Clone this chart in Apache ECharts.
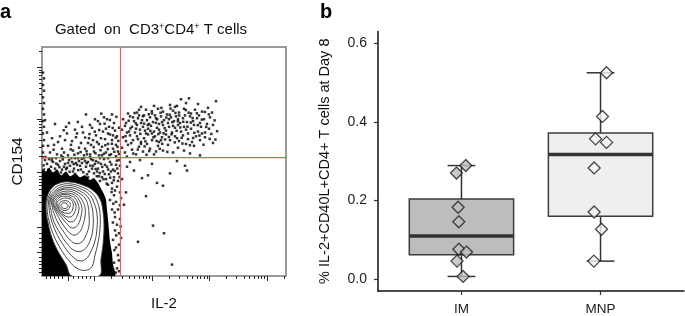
<!DOCTYPE html>
<html>
<head>
<meta charset="utf-8">
<script src="https://cdn.jsdelivr.net/npm/echarts@6/dist/echarts.min.js"></script>
<style>
html, body { margin: 0; padding: 0; background: #fff; }
#chart { width: 685px; height: 316px; }
</style>
</head>
<body>
<div id="chart"></div>
<script>
// ---- panel a : flow plot (axis units are raw channel units, no labels in figure)
var xMajorTicks = [26, 52, 110, 167, 225];
var xMinorTicks = [4, 8, 12, 16, 20, 31, 36, 40, 44, 48, 69, 80, 87, 92, 97, 101, 104, 107,
    127, 137, 145, 150, 155, 158, 162, 165, 184, 194, 202, 207, 212, 216, 219, 222, 242];
var yMajorTicks = [25, 51, 109, 165, 220];
var yMinorTicks = [4, 8, 12, 16, 20, 30, 35, 40, 45, 68, 78, 85, 91, 95, 99, 102, 105,
    126, 136, 143, 149, 153, 157, 160, 163, 182, 191, 198, 203, 207, 211, 214, 217, 237];
// quadrant gate (IL-2 / CD154)
var gateX = 78.5;
var gateY = 124.5;

// dense (saturated) event region, lower left
var blobOutline = [[0, 0], [0, 112], [4, 110], [7, 114], [11, 109], [15, 112], [19, 106], [24, 110],
    [28, 105], [33, 108], [38, 104], [43, 106], [48, 101], [52, 103], [56, 98], [59, 92], [62, 86],
    [64, 80], [65, 70], [66, 60], [67, 48], [68, 36], [70, 24], [71, 12], [73, 0]];

// contour levels, outermost first
var contourLevels = [
    [[5, 83], [10, 93], [18, 98], [28, 99], [40, 96], [51, 90], [58, 81], [61, 68], [62, 51], [61, 33], [59, 18], [57, 0], [30, 0], [24, 12], [16, 26], [10, 40], [6, 56], [4, 70]],
    [[6, 82], [11, 91], [19, 96], [28, 97], [39, 94], [49, 88], [55, 79], [58, 66], [58, 50], [56, 35], [53, 22], [50, 10], [44, 6], [35, 8], [27, 16], [19, 28], [12, 42], [7, 58], [5, 72]],
    [[7, 81], [12, 89], [20, 94], [29, 95], [38, 92], [47, 86], [52, 77], [55, 65], [55, 50], [53, 37], [49, 26], [44, 18], [37, 16], [29, 22], [21, 33], [14, 46], [9, 60], [7, 72]],
    [[8, 80], [13, 88], [20, 92], [29, 93], [37, 90], [45, 84], [49, 76], [51, 65], [51, 51], [49, 40], [45, 31], [39, 26], [32, 27], [25, 34], [18, 45], [12, 57], [9, 69]],
    [[9, 80], [14, 87], [21, 91], [29, 91], [36, 88], [43, 82], [46, 74], [47, 64], [47, 53], [44, 43], [40, 36], [34, 34], [28, 38], [22, 46], [16, 56], [12, 66], [10, 74]],
    [[10, 79], [15, 86], [22, 89], [29, 89], [35, 86], [40, 80], [43, 72], [43, 63], [41, 54], [38, 47], [33, 43], [28, 45], [23, 51], [18, 59], [14, 67], [11, 74]],
    [[11, 79], [16, 85], [22, 87], [28, 87], [34, 84], [38, 78], [40, 71], [39, 63], [37, 56], [33, 51], [29, 51], [25, 55], [20, 61], [15, 68], [12, 74]],
    [[12, 78], [17, 84], [23, 86], [28, 85], [33, 82], [36, 76], [37, 70], [35, 63], [32, 58], [28, 57], [24, 60], [19, 65], [15, 70], [13, 74]],
    [[14, 78], [18, 83], [23, 84], [28, 83], [32, 79], [34, 74], [33, 68], [30, 63], [26, 62], [22, 64], [18, 68], [15, 73]],
    [[15, 77], [19, 81], [24, 82], [28, 81], [31, 77], [31, 72], [29, 67], [25, 66], [21, 67], [17, 71]],
    [[17, 76], [21, 79], [25, 79], [28, 77], [28, 73], [26, 70], [22, 69], [18, 72]],
    [[19, 75], [22, 77], [25, 76], [26, 73], [23, 71], [20, 72]]
];

// individual events outside the contoured region
var cellDots = [
    // upper right cloud (CD154+ IL-2+)
    [139, 186], [147, 187], [174, 184], [144, 182], [128, 180], [156, 181], [133, 178],
    [95, 172], [104, 175], [110, 171], [116, 176], [121, 173], [125, 170], [131, 174], [137, 172], [142, 176],
    [149, 171], [153, 175], [160, 173], [166, 177], [170, 172], [99, 178], [112, 179], [86, 171], [135, 179],
    [81, 165], [84, 161], [88, 168], [92, 163], [96, 166], [99, 161], [102, 169], [105, 164], [108, 167],
    [111, 162], [114, 166], [117, 160], [119, 168], [122, 164], [126, 161], [129, 167], [132, 163], [134, 168],
    [138, 161], [141, 166], [145, 162], [148, 168], [151, 163], [155, 166], [158, 161], [162, 165], [165, 160],
    [168, 167], [100, 164], [107, 160], [113, 169], [120, 162], [127, 165], [136, 165], [143, 169], [157, 169],
    [91, 167], [97, 169],
    [80, 154], [83, 158], [87, 152], [90, 157], [93, 151], [95, 159], [98, 154], [101, 157], [104, 150],
    [106, 155], [109, 158], [112, 152], [115, 156], [118, 151], [121, 159], [124, 153], [127, 157], [130, 151],
    [133, 156], [136, 159], [139, 152], [142, 157], [146, 150], [149, 155], [152, 159], [156, 152], [159, 157],
    [163, 151], [167, 155], [171, 159], [94, 155], [103, 153], [117, 154], [131, 158], [144, 154], [160, 150],
    [110, 150], [85, 151],
    [81, 146], [84, 142], [88, 148], [91, 143], [95, 147], [99, 141], [102, 145], [106, 149], [110, 143],
    [113, 147], [117, 141], [120, 146], [124, 149], [128, 143], [133, 147], [137, 142], [141, 148], [146, 144],
    [150, 141], [154, 147], [158, 143], [163, 146], [171, 140], [96, 144], [119, 143], [135, 145],
    [80, 135], [83, 130], [86, 138], [90, 133], [94, 128], [97, 136], [101, 131], [105, 139], [108, 134],
    [112, 128], [116, 137], [121, 132], [126, 138], [131, 130], [136, 135], [142, 132], [148, 129], [152, 137],
    [158, 127], [144, 139], [114, 131], [99, 139],
    [83.5, 147.2], [86.7, 163.4], [89.2, 139.8], [92.6, 171.5], [95.8, 133.1], [98.3, 149.6], [100.9, 168.2],
    [103.4, 141.7], [105.7, 158.9], [107.2, 131.5], [109.8, 173.4], [111.4, 145.9], [113.9, 161.2], [116.3, 149.3],
    [118.6, 171.8], [120.2, 139.1], [122.7, 155.6], [124.4, 166.7], [126.9, 146.3], [128.5, 176.2], [130.3, 161.9],
    [132.8, 140.6], [134.6, 152.8], [137.1, 168.9], [139.7, 145.4], [141.2, 162.3], [143.8, 174.7], [145.5, 157.1],
    [147.9, 137.6], [150.6, 166.2], [152.3, 150.7], [154.9, 171.3], [157.4, 147.8], [159.8, 164.6], [161.5, 138.2],
    [164.2, 156.9], [166.8, 170.1], [169.3, 149.5], [172.6, 163.8], [175.1, 152.4], [88.4, 155.3], [93.7, 160.8],
    [97.1, 174.9], [102.6, 136.4], [106.8, 170.2], [114.6, 142.1], [119.4, 176.9], [123.1, 143.7], [129.6, 149.2],
    [133.4, 171.6], [138.2, 156.3], [146.7, 171.9], [151.1, 145.2], [155.8, 158.7], [162.9, 172.6], [167.7, 144.3],
    [102.1, 160.4], [108.4, 152.7], [115.2, 164.9], [121.6, 150.1], [127.8, 169.7], [135.9, 162.8], [140.4, 139.4],
    [148.8, 161.5], [117.7, 133.8], [125.3, 130.6], [91.2, 128.9], [104.5, 127.6], [84.9, 125.7], [173.4, 143.6],
    // upper left (CD154+ IL-2-)
    [8, 130], [12, 138], [15, 128], [20, 134], [23, 143], [26, 127], [29, 138], [31, 132], [34, 146], [36, 129],
    [39, 140], [41, 151], [43, 134], [45, 128], [47, 145], [49, 138], [50, 156], [52, 131], [54, 148], [55, 141],
    [57, 127], [58, 160], [60, 136], [61, 152], [63, 144], [64, 130], [65, 165], [66, 139], [67, 157], [68, 149],
    [69, 128], [70, 143], [71, 134], [72, 161], [73, 153], [74, 138], [75, 147], [76, 131], [77, 156], [62, 167],
    [56, 163], [48, 159], [40, 157], [33, 154], [25, 150], [18, 147], [10, 145], [5, 151], [13, 160], [27, 161],
    [44, 170], [70, 170], [53, 165], [66, 150], [59, 145], [46, 140], [37, 135], [30, 142], [22, 130], [16, 141],
    [6, 137], [74, 126], [71, 148], [64, 155], [51, 143], [42, 127], [35, 150], [60, 127], [24, 157], [3, 164],
    [44.6, 131.3], [48.2, 127.9], [51.7, 135.6], [53.4, 129.2], [56.8, 138.8], [58.5, 132.4], [61.9, 128.6],
    [63.3, 137.7], [65.8, 133.5], [67.4, 127.3], [69.9, 139.1], [72.2, 130.8], [73.8, 145.6], [75.5, 135.9],
    [77.1, 128.4], [76.3, 142.2], [70.7, 155.8], [62.6, 160.3], [57.2, 153.6], [52.8, 151.9], [47.5, 149.4],
    [43.1, 145.7], [38.6, 130.5], [32.4, 127.6], [28.7, 133.2], [19.3, 126.8], [11.6, 132.9], [67.9, 164.2],
    [74.4, 167.5], [59.3, 170.8], [35.8, 162.1], [21.7, 153.4],
    // just below the CD154 gate
    [2, 112], [5, 118], [7, 123], [9, 115], [11, 120], [13, 113], [14, 124], [16, 117], [18, 121], [20, 112],
    [21, 125], [23, 118], [25, 114], [27, 122], [28, 116], [30, 120], [32, 113], [33, 124], [35, 117], [37, 121],
    [39, 112], [40, 119], [42, 124], [44, 115], [46, 120], [47, 110], [49, 123], [51, 116], [52, 108], [54, 121],
    [56, 113], [57, 105], [59, 118], [61, 110], [62, 123], [64, 102], [65, 115], [67, 107], [68, 120], [70, 98],
    [71, 112], [72, 104], [74, 117], [75, 94], [76, 108], [77, 122], [73, 90], [69, 110], [66, 96], [63, 117],
    [60, 104], [58, 100], [55, 110], [53, 118], [50, 113], [45, 107], [43, 121], [38, 116], [34, 119], [31, 110],
    [26, 119], [22, 115], [19, 109], [15, 110], [12, 106], [8, 109], [4, 106], [3, 122], [10, 124], [36, 124],
    [48, 125], [58, 124], [66, 124], [76, 100], [78, 116], [78, 88],
    [1.6, 116.4], [6.3, 111.8], [9.7, 121.6], [14.2, 118.3], [17.4, 114.6], [20.8, 122.7], [24.1, 112.5],
    [29.3, 124.1], [31.7, 117.8], [36.2, 111.4], [39.8, 123.3], [41.3, 109.2], [44.7, 118.7], [48.3, 116.2],
    [50.9, 121.9], [53.6, 112.6], [56.4, 119.4], [60.2, 114.8], [62.8, 107.3], [66.1, 112.1], [69.4, 117.3],
    [72.7, 110.6], [74.9, 121.4], [77.6, 104.2], [75.3, 113.1], [71.8, 100.7], [68.2, 103.5], [64.7, 97.2],
    [61.5, 101.9], [57.7, 108.4], [3.4, 125.2], [27.6, 109.6], [46.1, 103.8], [54.8, 104.9], [33.1, 107.2],
    // lower right, sparse
    [85, 115], [92, 111], [100, 103], [106, 106], [115, 98], [121, 95], [128, 108], [143, 116], [145, 111],
    [84, 88], [111, 53], [122, 45], [96, 36], [130, 12], [88, 120], [135, 121], [98, 122], [110, 118],
    [80, 102], [82, 75], [104, 84],
    // edge of the dense region
    [70, 92], [72, 85], [74, 78], [76, 70], [73, 62], [75, 54], [77, 45], [71, 38], [74, 30], [76, 22],
    [72, 14], [75, 8], [78, 60], [77, 33], [70, 70], [68, 80], [73, 48], [77, 5], [79, 82], [79, 40],
    [69.6, 88.4], [71.3, 76.1], [72.6, 66.8], [70.9, 56.3], [74.2, 42.7], [72.4, 27.3], [76.8, 16.4],
    [73.7, 3.6], [78.6, 52.2], [77.9, 74.6],
    // events piled on the left axis
    [1, 130], [1, 137], [2, 143], [1, 150], [2, 157], [1, 163], [2, 170], [1, 176], [2, 182], [1, 188],
    [2, 195], [1, 201], [2, 208], [1, 214], [1, 125]
];

// ---- panel b : box plot
var groups = ['IM', 'MNP'];
// [min, q1, median, q3, max]
var imStats = [0.007, 0.062, 0.110, 0.204, 0.289];
var mnpStats = [0.046, 0.160, 0.317, 0.372, 0.525];
var imValues = [0.289, 0.270, 0.183, 0.146, 0.076, 0.069, 0.046, 0.007];
var imJitter = [0.031, -0.036, -0.024, -0.019, -0.019, 0.036, -0.032, 0.012];
var mnpValues = [0.525, 0.414, 0.357, 0.348, 0.283, 0.171, 0.127, 0.046];
var mnpJitter = [0.043, 0.014, -0.036, 0.043, -0.046, -0.046, 0.007, -0.048];
var yTicks = [0, 0.2, 0.4, 0.6];

var boxFill = ['#bdbdbd', '#efefef'];
var FONT = '"Liberation Sans", Arial, sans-serif';
var GATE_COLOR = '#f25a5a';

var myChart = echarts.init(document.getElementById('chart'), null, {renderer: 'canvas'});

function tickAxis(grid, pos, values, len, extra) {
    var a = {
        gridIndex: grid, type: 'value', position: pos,
        axisLine: {show: false, onZero: false},
        splitLine: {show: false},
        axisLabel: {show: false},
        axisTick: {show: true, customValues: values, length: len, lineStyle: {color: '#222', width: 1}}
    };
    return Object.assign(a, extra);
}

function gateLine(points) {
    return {
        type: 'line', xAxisIndex: 0, yAxisIndex: 0, silent: true, z: 4,
        symbol: 'none', data: points,
        lineStyle: {color: GATE_COLOR, width: 1.2},
        itemStyle: {color: GATE_COLOR}
    };
}

var option = {
    backgroundColor: '#fff',
    animation: false,
    textStyle: {fontFamily: FONT},
    grid: [
        {left: 42, top: 47, width: 244, height: 241, show: true, borderColor: '#7a7a7a', borderWidth: 1.5, backgroundColor: '#fff'},
        {left: 378, top: 31.5, width: 306, height: 260.5}
    ],
    xAxis: [
        tickAxis(0, 'bottom', xMajorTicks, 5, {min: 0, max: 244, name: 'IL-2', nameLocation: 'middle', nameGap: 20,
            nameTextStyle: {fontSize: 15, color: '#111', fontFamily: FONT}}),
        tickAxis(0, 'bottom', xMinorTicks, 3, {min: 0, max: 244}),
        {
            gridIndex: 1, type: 'value', min: 0.4, max: 2.6, position: 'bottom',
            axisLine: {show: true, onZero: false, lineStyle: {color: '#111', width: 1.5}},
            axisTick: {show: true, customValues: [1, 2], length: 4, lineStyle: {color: '#333', width: 1.2}},
            axisLabel: {show: true, customValues: [1, 2], margin: 11, fontSize: 13.5, color: '#222', fontFamily: FONT,
                formatter: function (v) { return groups[Math.round(v) - 1]; }},
            splitLine: {show: false}
        }
    ],
    yAxis: [
        tickAxis(0, 'left', yMajorTicks, 5, {min: 0, max: 241, name: 'CD154', nameLocation: 'middle', nameGap: 16,
            nameTextStyle: {fontSize: 15.5, color: '#111', fontFamily: FONT}}),
        tickAxis(0, 'left', yMinorTicks, 3, {min: 0, max: 241}),
        {
            gridIndex: 1, type: 'value', min: -0.03, max: 0.63, position: 'left',
            axisLine: {show: true, onZero: false, lineStyle: {color: '#111', width: 1.5}},
            axisTick: {show: true, customValues: yTicks, length: 4, lineStyle: {color: '#333', width: 1.2}},
            axisLabel: {show: true, customValues: yTicks, margin: 11, fontSize: 14, color: '#222', fontFamily: FONT,
                formatter: function (v) { return v.toFixed(1); }},
            splitLine: {show: false},
            name: '% IL-2+CD40L+CD4+ T cells at Day 8', nameLocation: 'middle', nameGap: 46,
            nameTextStyle: {fontSize: 14.5, color: '#111', fontFamily: FONT}
        }
    ],
    graphic: [
        {type: 'text', left: 0, top: 2, style: {text: 'a', font: 'bold 20px ' + FONT, fill: '#000'}},
        {type: 'text', left: 320, top: 2, style: {text: 'b', font: 'bold 20px ' + FONT, fill: '#000'}},
        {type: 'text', x: 151, y: 30, style: {
            text: 'Gated  on  CD3{s|+}CD4{s|+} T cells', align: 'center', verticalAlign: 'middle',
            font: '15px ' + FONT, fill: '#111',
            rich: {s: {fontSize: 9, verticalAlign: 'top', lineHeight: 10, fill: '#111', fontFamily: FONT}}
        }}
    ],
    series: [
        {
            type: 'custom', xAxisIndex: 0, yAxisIndex: 0, silent: true, z: 1, clip: true,
            data: [0],
            renderItem: function (params, api) {
                return {type: 'polygon', shape: {points: blobOutline.map(function (p) { return api.coord(p); }), smooth: 0.2},
                    style: {fill: '#000'}};
            }
        },
        {
            type: 'custom', xAxisIndex: 0, yAxisIndex: 0, silent: true, z: 2, clip: true,
            data: contourLevels.map(function (c, i) { return i; }),
            renderItem: function (params, api) {
                var i = params.dataIndex;
                return {type: 'polygon', shape: {points: contourLevels[i].map(function (p) { return api.coord(p); }), smooth: 0.4},
                    style: {fill: i === 0 ? '#fff' : 'none', stroke: '#333', lineWidth: 0.9}};
            }
        },
        {
            type: 'scatter', xAxisIndex: 0, yAxisIndex: 0, silent: true, z: 3,
            symbol: 'rect', symbolSize: 2.5, itemStyle: {color: '#000'},
            data: cellDots
        },
        gateLine([[gateX, 0], [gateX, 241]]),
        gateLine([[0, gateY], [244, gateY]]),
        {
            type: 'custom', xAxisIndex: 2, yAxisIndex: 2, silent: true, z: 2,
            data: [[1].concat(imStats), [2].concat(mnpStats)],
            renderItem: function (params, api) {
                var x = api.value(0);
                var pMin = api.coord([x, api.value(1)]);
                var pQ1 = api.coord([x, api.value(2)]);
                var pMed = api.coord([x, api.value(3)]);
                var pQ3 = api.coord([x, api.value(4)]);
                var pMax = api.coord([x, api.value(5)]);
                var hb = api.size([0.75, 0])[0] / 2;
                var hc = api.size([0.2, 0])[0] / 2;
                var cx = pMed[0];
                var ln = {stroke: '#333', lineWidth: 1.5};
                return {
                    type: 'group',
                    children: [
                        {type: 'line', shape: {x1: cx, y1: pMax[1], x2: cx, y2: pMin[1]}, style: ln},
                        {type: 'line', shape: {x1: cx - hc, y1: pMax[1], x2: cx + hc, y2: pMax[1]}, style: ln},
                        {type: 'line', shape: {x1: cx - hc, y1: pMin[1], x2: cx + hc, y2: pMin[1]}, style: ln},
                        {type: 'rect', shape: {x: cx - hb, y: pQ3[1], width: 2 * hb, height: pQ1[1] - pQ3[1]},
                            style: {fill: boxFill[params.dataIndex], stroke: '#3d3d3d', lineWidth: 1.5}},
                        {type: 'line', shape: {x1: cx - hb, y1: pMed[1], x2: cx + hb, y2: pMed[1]},
                            style: {stroke: '#333', lineWidth: 3.5}}
                    ]
                };
            }
        },
        {
            type: 'scatter', xAxisIndex: 2, yAxisIndex: 2, silent: true, z: 3,
            symbol: 'diamond', symbolSize: 12,
            itemStyle: {color: boxFill[0], borderColor: '#1a1a1a', borderWidth: 1.3},
            data: imValues.map(function (v, i) { return [1 + imJitter[i], v]; })
        },
        {
            type: 'scatter', xAxisIndex: 2, yAxisIndex: 2, silent: true, z: 3,
            symbol: 'diamond', symbolSize: 12,
            itemStyle: {color: '#f4f4f4', borderColor: '#1a1a1a', borderWidth: 1.3},
            data: mnpValues.map(function (v, i) { return [2 + mnpJitter[i], v]; })
        }
    ]
};
myChart.setOption(option);
</script>
</body>
</html>
